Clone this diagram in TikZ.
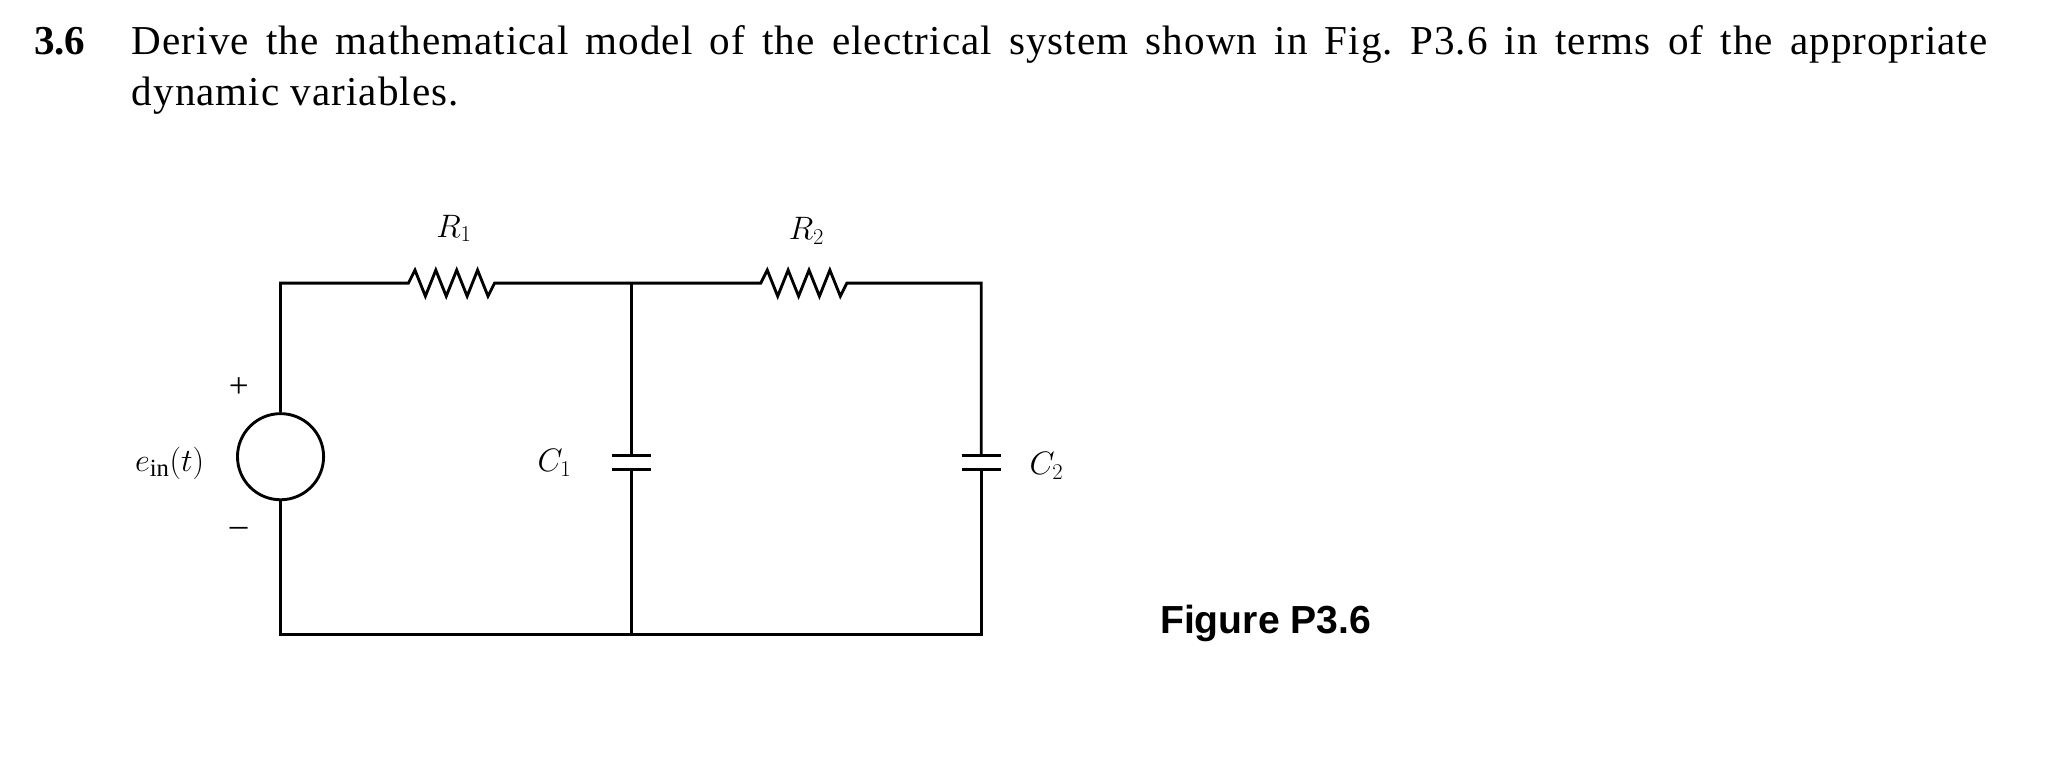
\documentclass[tikz,border=0pt]{standalone}
\usepackage{fontspec}
\setmainfont{Liberation Serif}
\newfontfamily\figfont{Liberation Sans}
\usetikzlibrary{calc}
\begin{document}
\frenchspacing
\begin{tikzpicture}[x=1pt,y=-1pt,line width=2.2pt,
  lbl/.style={font=\fontsize{27}{30}\selectfont},
  txt/.style={font=\fontsize{31.5}{36}\selectfont\addfontfeature{LetterSpace=2.5},anchor=base west,inner sep=0}]
\useasboundingbox (0,0) rectangle (1568,586);
\node[txt,font=\fontsize{31.5}{36}\selectfont\bfseries] (num) at (25,42) {3.6};
\node[txt] (l1) at (100,42) {\makebox[1422pt][s]{Derive the mathematical model of the electrical system shown in Fig. P3.6 in terms of the appropriate}};
\node[txt] (l2) at (100,81) {dynamic variables.};
% circuit
\coordinate (tl) at (215,217); \coordinate (tm) at (484,217); \coordinate (tr) at (752,217);
\coordinate (bl) at (215,486); \coordinate (bm) at (484,486); \coordinate (br) at (752,486);
\node[circle,draw,minimum size=66pt,inner sep=0] (src) at (215,350) {};
\draw (src.north) -- (tl) -- (313,217)
  -- (318,207) -- (326,227) -- (334,207) -- (342,227) -- (350,207) -- (358,227) -- (366,207) -- (374,227) -- (379,217)
  -- (tm) -- (583,217)
  -- (588,207) -- (596,227) -- (604,207) -- (612,227) -- (620,207) -- (628,227) -- (636,207) -- (644,227) -- (649,217)
  -- (tr) -- (752,349);
\draw (src.south) -- (bl) -- (bm) -- (br) -- (752,360);
\draw (tm) -- (484,349); \draw (484,360) -- (bm);
\draw (469,349) -- (499,349); \draw (469,360) -- (499,360);
\draw (737,349) -- (767,349); \draw (737,360) -- (767,360);
\node[lbl] (p) at (183,297) {+};
\node[lbl] (m) at (183,408) {--};
\node[lbl] (e) at (130,355) {$e_{\mathrm{in}}(t)$};
\node[lbl] (r1) at (348,175) {$R_1$};
\node[lbl] (r2) at (618,177) {$R_2$};
\node[lbl] (c1) at (425,355) {$C_1$};
\node[lbl] (c2) at (802,357) {$C_2$};
\node[font=\figfont\bfseries\fontsize{30}{34}\selectfont,anchor=west,inner sep=0] (fig) at (888,478) {Figure P3.6};
\end{tikzpicture}
\end{document}
